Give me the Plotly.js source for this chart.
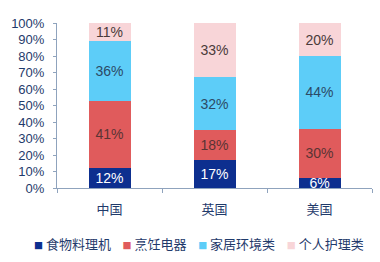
<!DOCTYPE html>
<html><head><meta charset="utf-8">
<script src="https://cdn.plot.ly/plotly-3.0.1.min.js"></script>
<style>html,body{margin:0;padding:0;background:#fff}#c{width:380px;height:262px}</style>
</head><body><div id="c"></div>
<script>
const categories = ['中国', '英国', '美国'];
const seriesNames = ['食物料理机', '烹饪电器', '家居环境类', '个人护理类'];
const foodProcessor = [12, 17, 6];
const cookingAppliance = [41, 18, 30];
const homeEnvironment = [36, 32, 44];
const personalCare = [11, 33, 20];
const yTickValues = [0, 10, 20, 30, 40, 50, 60, 70, 80, 90, 100];

const series = [foodProcessor, cookingAppliance, homeEnvironment, personalCare];
const colors = ['#0d2f8f', '#e05b5c', '#5dcdf8', '#f8d5d8'];
const textColors = ['#ffffff', '#5a3434', '#2c4a66', '#4a3a3a'];
const font = '"Liberation Sans", Arial, "Noto Sans CJK SC", sans-serif';
const cjk = '"Noto Sans CJK SC", sans-serif';

const traces = series.map((vals, i) => ({
  type: 'bar',
  name: seriesNames[i],
  x: categories,
  y: vals,
  text: vals.map(v => v + '%'),
  textposition: 'inside',
  insidetextanchor: 'middle',
  constraintext: 'none',
  cliponaxis: false,
  textfont: {family: font, size: 14, color: textColors[i]},
  hoverinfo: 'none',
  marker: {color: colors[i], line: {width: 0}},
  width: 0.4
}));

const legendText = seriesNames.map((n, i) =>
  '<span style="color:' + colors[i] + ';font-size:9px">■</span> ' + n).join('    ');

const layout = {
  width: 380, height: 262,
  margin: {l: 57, r: 8, t: 23, b: 74},
  barmode: 'stack',
  showlegend: false,
  paper_bgcolor: '#ffffff',
  plot_bgcolor: '#ffffff',
  font: {family: font, color: '#1f3a6b'},
  xaxis: {
    type: 'category',
    showline: true, linecolor: '#8fa3bd', linewidth: 1,
    ticks: 'outside', tickson: 'boundaries', ticklen: 4, tickcolor: '#8fa3bd',
    ticklabelstandoff: 9,
    tickfont: {family: cjk, size: 13, color: '#1f3a6b'},
    showgrid: false, zeroline: false
  },
  yaxis: {
    range: [0, 100],
    tickvals: yTickValues,
    ticktext: yTickValues.map(v => v + '%'),
    showline: true, linecolor: '#8fa3bd', linewidth: 1,
    ticks: 'outside', ticklen: 3, tickcolor: '#8fa3bd',
    ticklabelstandoff: 6,
    tickfont: {family: font, size: 13, color: '#1f3a6b'},
    showgrid: false, zeroline: false
  },
  annotations: [{
    xref: 'paper', yref: 'paper',
    x: 0.45, y: -0.335,
    xanchor: 'center', yanchor: 'middle',
    showarrow: false,
    text: legendText,
    font: {family: cjk, size: 13, color: '#1f3a6b'}
  }]
};

Plotly.newPlot('c', traces, layout, {staticPlot: true, displayModeBar: false});
</script>
</body></html>
